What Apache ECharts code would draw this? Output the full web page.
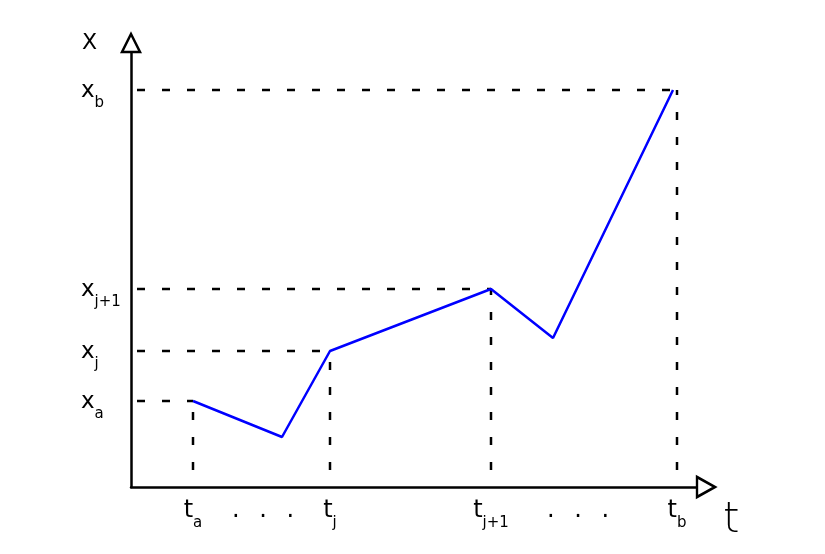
<!DOCTYPE html>
<html><head><meta charset="utf-8">
<script src="https://cdn.jsdelivr.net/npm/echarts@6/dist/echarts.min.js"></script>
<style>html,body{margin:0;padding:0;background:#fff}#c{width:825px;height:554px}</style>
</head><body><div id="c"></div>
<script>
// path points (t, x)
const tValues = [62, 151, 199, 360, 422, 542];
const xValues = [86, 50, 136, 198, 149, 397];
// guide lines (dashed) : t positions and x levels
const guideT = [62, 199, 360, 546];
const guideX = [86, 136, 198, 397];
// x-axis tick labels
const tTicks = [62, 132, 199, 360, 447, 546];
const tTickMain = ['t', '.', 't', 't', '.', 't'];
const tTickSub = ['a', '', 'j', 'j+1', '', 'b'];
// y-axis tick labels
const xTicks = [86, 136, 198, 397];
const xTickMain = ['x', 'x', 'x', 'x'];
const xTickSub = ['a', 'j', 'j+1', 'b'];
// axis extents
const tMax = 566, xMax = 435;

const FONT = 'DejaVu Sans';
const DOTS = '. \u2002. \u2002.';
function richLabel(main, sub) {
  if (main === '.') return '{m|' + DOTS + '}';
  return '{m|' + main + '}{s|' + sub + '}';
}
const tLabelMap = {}; tTicks.forEach((v, i) => tLabelMap[v] = richLabel(tTickMain[i], tTickSub[i]));
const xLabelMap = {}; xTicks.forEach((v, i) => xLabelMap[v] = richLabel(xTickMain[i], xTickSub[i]));

const dashStyle = { color: '#000', width: 2.5, type: [8, 17] };
const series = [];
guideT.forEach((gt, i) => {
  const gx = guideX[i];
  series.push({ type: 'line', data: [[0, gx], [gt, gx]], symbol: 'none', silent: true,
    lineStyle: Object.assign({}, dashStyle, { dashOffset: 19 }), z: 1 });
  series.push({ type: 'line', data: [[gt, 0], [gt, gx]], symbol: 'none', silent: true,
    lineStyle: Object.assign({}, dashStyle, { dashOffset: 8 }), z: 1 });
});
series.push({ type: 'line', data: tValues.map((t, i) => [t, xValues[i]]), symbol: 'none',
  lineStyle: { color: '#0000ff', width: 2.5 }, z: 3, silent: true });
series.push({ type: 'scatter', data: [[0, xMax]], symbol: 'triangle', symbolSize: [18, 18],
  symbolOffset: [0, -9], clip: false, silent: true,
  itemStyle: { color: '#fff', borderColor: '#000', borderWidth: 2.5, opacity: 1 }, z: 4 });
series.push({ type: 'scatter', data: [[tMax, 0]], symbol: 'triangle', symbolSize: [20, 18],
  symbolRotate: -90, symbolOffset: [9, 0], clip: false, silent: true,
  itemStyle: { color: '#fff', borderColor: '#000', borderWidth: 2.5, opacity: 1 }, z: 4 });

const chart = echarts.init(document.getElementById('c'), null, { renderer: 'canvas' });
chart.setOption({
  animation: false,
  backgroundColor: '#fff',
  grid: { left: 131, top: 52, width: 566, height: 435 },
  xAxis: {
    type: 'value', min: 0, max: tMax,
    name: 't', nameLocation: 'end', nameGap: 26,
    nameTextStyle: { fontFamily: FONT, fontSize: 42, fontWeight: 200, color: '#000', lineHeight: 42,
      verticalAlign: 'top', align: 'left', padding: [13, 0, 0, 0] },
    axisLine: { lineStyle: { color: '#000', width: 2.5 } },
    axisTick: { show: false },
    splitLine: { show: false },
    axisLabel: {
      customValues: tTicks, margin: 5, color: '#000',
      formatter: v => tLabelMap[v] || '',
      rich: {
        m: { fontFamily: FONT, fontSize: 24, lineHeight: 38, color: '#000' },
        s: { fontFamily: FONT, fontSize: 15, lineHeight: 14, padding: [24, 0, 0, 0], color: '#000' }
      }
    }
  },
  yAxis: {
    type: 'value', min: 0, max: xMax,
    name: 'X', nameLocation: 'end', nameGap: -2,
    nameTextStyle: { fontFamily: FONT, fontSize: 22, color: '#000', lineHeight: 22,
      align: 'right', verticalAlign: 'bottom', padding: [0, 34, 0, 0] },
    axisLine: { show: true, lineStyle: { color: '#000', width: 2.5 } },
    axisTick: { show: false },
    splitLine: { show: false },
    axisLabel: {
      customValues: xTicks, margin: 50, align: 'left', color: '#000',
      padding: [2, 0, 0, 0],
      formatter: v => xLabelMap[v] || '',
      rich: {
        m: { fontFamily: FONT, fontSize: 23, lineHeight: 38, color: '#000' },
        s: { fontFamily: FONT, fontSize: 15, lineHeight: 14, padding: [24, 0, 0, 0], color: '#000' }
      }
    }
  },
  series: series
});
</script>
</body></html>
